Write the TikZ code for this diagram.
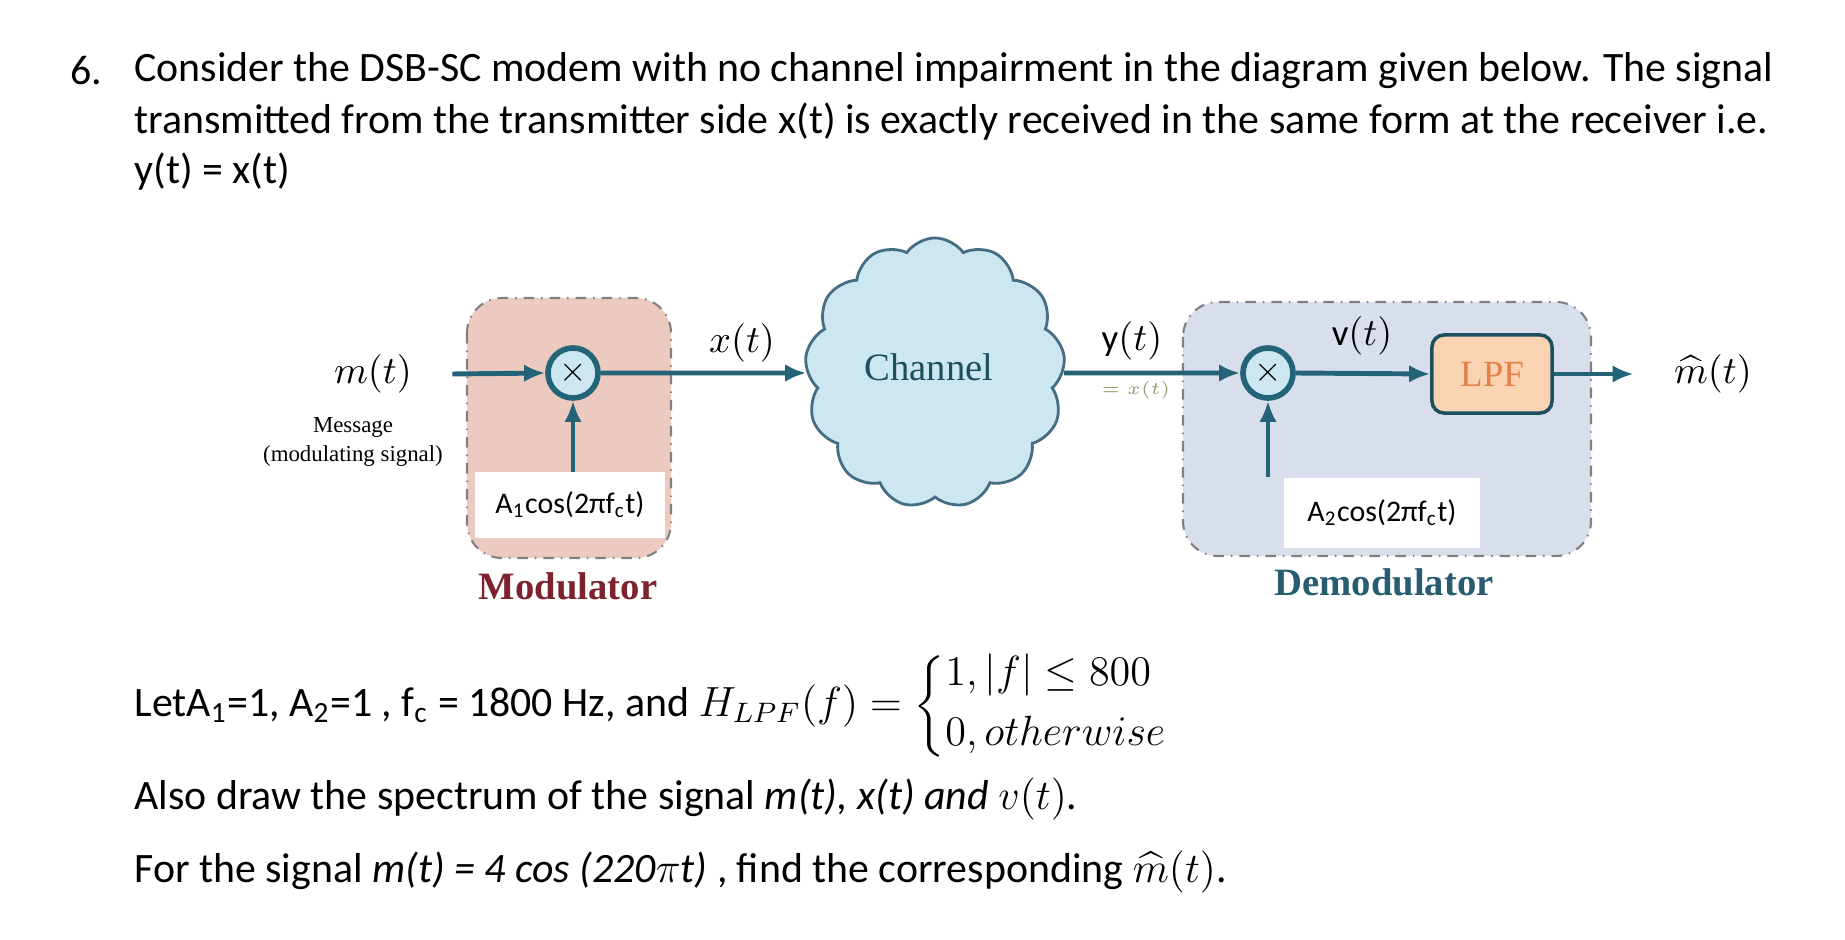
\documentclass[tikz,border=0pt]{standalone}
\usepackage{fontspec}
\usepackage{amsmath}
\setmainfont{Carlito}
\newfontfamily\labelserif{Liberation Serif}
\usetikzlibrary{arrows.meta,shapes.symbols,positioning}

\definecolor{teal}{RGB}{35,100,120}
\definecolor{modfill}{RGB}{236,202,192}
\definecolor{demfill}{RGB}{216,222,236}
\definecolor{cloudfill}{RGB}{204,230,242}
\definecolor{cloudline}{RGB}{70,110,130}
\definecolor{lpffill}{RGB}{250,212,178}
\definecolor{lpftext}{RGB}{228,128,70}
\definecolor{modtext}{RGB}{125,35,45}
\definecolor{demtext}{RGB}{40,92,112}
\definecolor{eqgrey}{RGB}{150,150,110}

\tikzset{
  sig/.style={draw=teal,line width=1.4pt,-{Latex[length=6pt,width=5pt]}},
  mult/.style={circle,draw=teal,line width=1.6pt,fill=cloudfill,minimum size=0.5cm,inner sep=0pt},
  region/.style={rounded corners=0.35cm,dash dot,draw=gray,line width=0.6pt},
  carrier/.style={fill=white,minimum width=1.9cm,minimum height=0.65cm,font=\fontsize{8.5}{10}\selectfont},
  txt/.style={anchor=west,font=\fontsize{11.9}{14}\selectfont},
}

\begin{document}
\begin{tikzpicture}[x=0.01cm,y=-0.01cm]
  \useasboundingbox (0,0) rectangle (1845,940);

  % question text
  \node[txt] at (58,71) {6.};
  \node[txt] at (122,71) {Consider the DSB-SC modem with no channel impairment in the diagram given below. The signal};
  \node[txt] at (122,122) {transmitted from the transmitter side x(t) is exactly received in the same form at the receiver i.e.};
  \node[txt] at (122,172) {y(t) = x(t)};

  % modulator
  \draw[region,fill=modfill] (467,298) rectangle (671,558);
  \node[carrier,minimum width=1.9cm] (car1) at (570,505) {A\textsubscript{1}cos(2πf\textsubscript{c}t)};
  \node[mult] (mul1) at (573,373) {$\times$};
  \node[font=\fontsize{10.5}{12}\selectfont] (msg) at (373,374) {$m(t)$};
  \node[font=\labelserif\fontsize{6.5}{8}\selectfont,align=center] (msgtxt) at (353,442) {Message\\(modulating signal)};
  \node[font=\labelserif\bfseries\fontsize{11}{13}\selectfont,text=modtext] (modlbl) at (568,586) {Modulator};

  % channel
  \node[cloud,cloud puffs=13,cloud puff arc=110,aspect=0.95,draw=cloudline,fill=cloudfill,line width=0.8pt,
        minimum width=2.6cm,minimum height=2.7cm] (chan) at (935,373) {};
  \node[font=\labelserif\fontsize{11}{13}\selectfont,text=teal!80!black] at (929,367) {Channel};
  \node[font=\fontsize{10.5}{12}\selectfont] at (742,343) {$x(t)$};

  % demodulator
  \draw[region,fill=demfill] (1183,302) rectangle (1591,556);
  \node[carrier,minimum width=1.95cm,minimum height=0.7cm] (car2) at (1382,513) {A\textsubscript{2}cos(2πf\textsubscript{c}t)};
  \node[mult] (mul2) at (1268,373) {$\times$};
  \node[draw=teal!80!black,line width=1pt,fill=lpffill,rounded corners=0.12cm,minimum width=1.2cm,minimum height=0.78cm,
        font=\labelserif\fontsize{10.5}{12}\selectfont,text=lpftext] (lpf) at (1492,374) {LPF};
  \node[font=\fontsize{10.5}{12}\selectfont] (mhat) at (1713,374) {$\widehat{m}(t)$};
  \node[font=\fontsize{10.5}{12}\selectfont] at (1132,341) {$\mathrm{y}(t)$};
  \node[font=\fontsize{5}{6}\selectfont,text=eqgrey] at (1136,390) {$=x(t)$};
  \node[font=\fontsize{10.5}{12}\selectfont] at (1362,336) {$\mathrm{v}(t)$};
  \node[font=\labelserif\bfseries\fontsize{11}{13}\selectfont,text=demtext] (demlbl) at (1384,582) {Demodulator};

  % signal paths
  \draw[sig] ([xshift=8pt]msg.east) -- (mul1.west);
  \draw[sig] (car1.north -| mul1) -- (mul1.south);
  \draw[sig] (mul1.east) -- (chan.west);
  \draw[sig] (chan.east) -- (mul2.west);
  \draw[sig] (car2.north -| mul2) -- (mul2.south);
  \draw[sig] (mul2.east) -- (lpf.west);
  \draw[sig] (lpf.east) -- ([xshift=-8pt]mhat.west);

  % question text below
  \node[txt] at (122,706) {LetA\textsubscript{1}=1, A\textsubscript{2}=1 , f\textsubscript{c} = 1800 Hz, and $H_{LPF}(f) = \left\{\begin{array}{@{}l@{}}1,|f|\le 800\\[3pt]0,otherwise\end{array}\right.$};
  \node[txt] at (122,799) {Also draw the spectrum of the signal \textit{m(t), x(t) and} $v(t)$.};
  \node[txt] at (122,872) {For the signal \textit{m(t) = 4 cos (220}$\pi$\textit{t)} , find the corresponding $\widehat{m}(t)$.};
\end{tikzpicture}
\end{document}
